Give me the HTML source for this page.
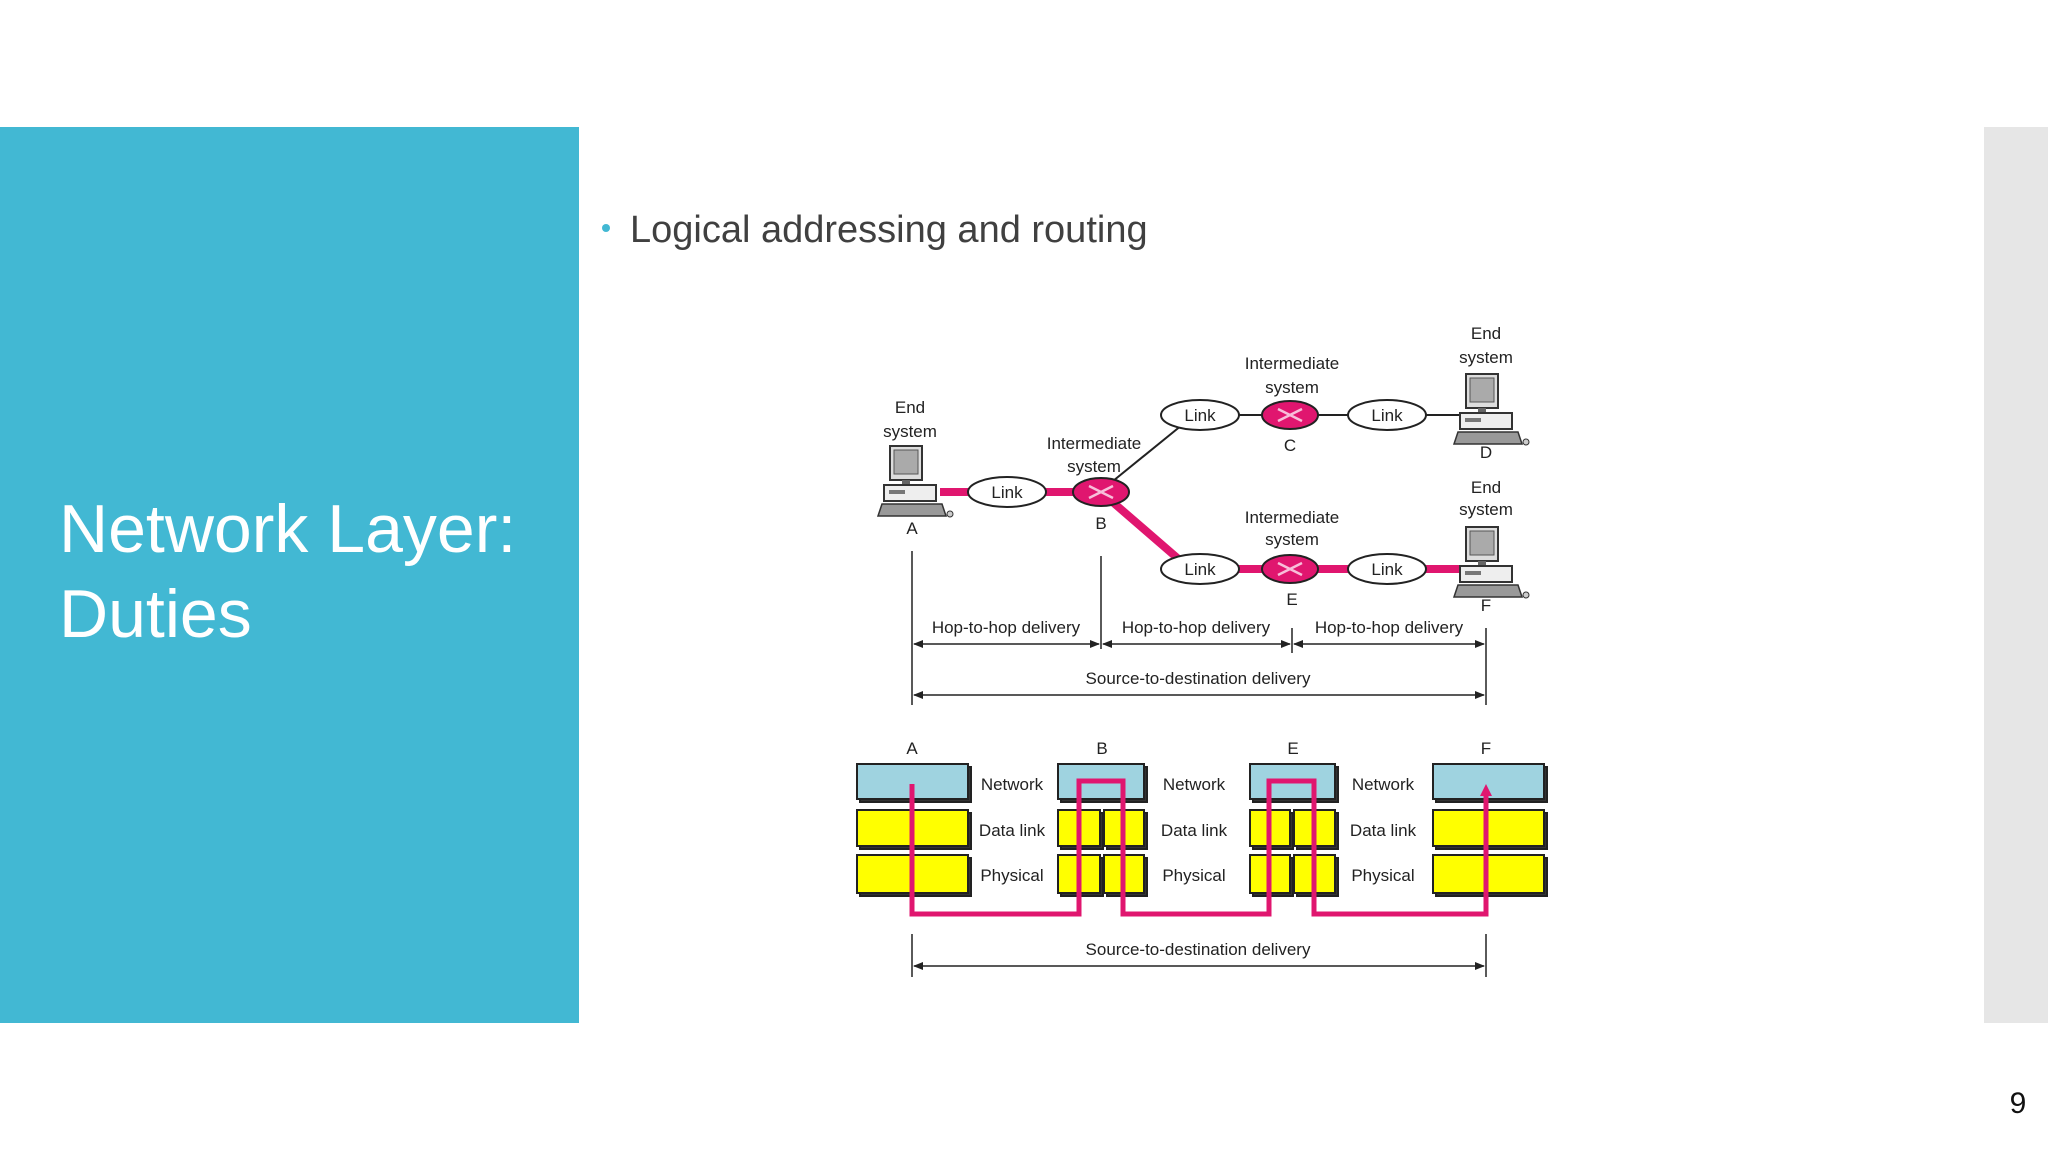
<!DOCTYPE html>
<html><head><meta charset="utf-8"><style>
html,body{margin:0;padding:0;background:#fff;}
body{width:2048px;height:1152px;position:relative;overflow:hidden;font-family:"Liberation Sans",sans-serif;}
</style></head><body>
<svg width="2048" height="1152" viewBox="0 0 2048 1152" xmlns="http://www.w3.org/2000/svg" style="position:absolute;left:0;top:0">
<defs>
<marker id="ar" markerWidth="10" markerHeight="8" refX="9" refY="4" orient="auto-start-reverse" markerUnits="userSpaceOnUse"><path d="M0,0 L10,4 L0,8 z" fill="#222"/></marker>
<marker id="pa" markerWidth="12" markerHeight="12" refX="6" refY="6" orient="auto" markerUnits="userSpaceOnUse"><path d="M0,0 L12,6 L0,12 z" fill="#e0166f"/></marker>
<g id="pc">
 <rect x="14" y="0" width="32" height="34" fill="#ddd" stroke="#333" stroke-width="2"/>
 <rect x="18" y="4" width="24" height="24" fill="#aaa" stroke="#555"/>
 <rect x="26" y="34" width="8" height="5" fill="#666"/>
 <rect x="8" y="39" width="52" height="16" fill="#eee" stroke="#333" stroke-width="2"/>
 <rect x="13" y="44" width="16" height="4" fill="#777"/>
 <polygon points="2,70 6,58 66,58 70,70" fill="#999" stroke="#333" stroke-width="1.5"/>
 <circle cx="74" cy="68" r="3" fill="#ccc" stroke="#333"/>
</g>
<g id="rt">
 <ellipse cx="0" cy="0" rx="28" ry="14" fill="#e0166f" stroke="#222" stroke-width="2"/>
 <path d="M-12,-6 L12,6 M-12,6 L12,-6" stroke="#f7bfd9" stroke-width="2.5"/>
</g>
</defs>
<rect x="0" y="127" width="579" height="896" fill="#42b8d3"/>
<rect x="1984" y="127" width="64" height="896" fill="#e6e6e6"/>
<text x="59" y="552" font-size="68" fill="#fff">Network Layer:</text>
<text x="59" y="637" font-size="68" fill="#fff">Duties</text>
<circle cx="606" cy="228" r="4" fill="#42b8d3"/>
<text x="630" y="242" font-size="38" fill="#404040">Logical addressing and routing</text>
<text x="2018" y="1113" font-size="30" fill="#111" text-anchor="middle">9</text>

<g font-size="17" fill="#222" text-anchor="middle">
<!-- top diagram lines -->
<line x1="940" y1="492" x2="1101" y2="492" stroke="#e0166f" stroke-width="8"/>
<line x1="1101" y1="492" x2="1190" y2="569" stroke="#e0166f" stroke-width="8"/>
<line x1="1190" y1="569" x2="1470" y2="569" stroke="#e0166f" stroke-width="8"/>
<line x1="1113" y1="481" x2="1182" y2="425" stroke="#222" stroke-width="2"/>
<line x1="1200" y1="415" x2="1465" y2="415" stroke="#222" stroke-width="2"/>
<g fill="#fff" stroke="#222" stroke-width="2">
<ellipse cx="1007" cy="492" rx="39" ry="15"/>
<ellipse cx="1200" cy="415" rx="39" ry="15"/>
<ellipse cx="1387" cy="415" rx="39" ry="15"/>
<ellipse cx="1200" cy="569" rx="39" ry="15"/>
<ellipse cx="1387" cy="569" rx="39" ry="15"/>
</g>
<text x="1007" y="498">Link</text><text x="1200" y="421">Link</text><text x="1387" y="421">Link</text>
<text x="1200" y="575">Link</text><text x="1387" y="575">Link</text>
<use href="#rt" x="1101" y="492"/><use href="#rt" x="1290" y="415"/><use href="#rt" x="1290" y="569"/>
<use href="#pc" x="876" y="446"/><use href="#pc" x="1452" y="374"/><use href="#pc" x="1452" y="527"/>
<text x="910" y="413">End</text><text x="910" y="437">system</text>
<text x="912" y="534">A</text>
<text x="1094" y="449">Intermediate</text><text x="1094" y="472">system</text>
<text x="1101" y="529">B</text>
<text x="1292" y="369">Intermediate</text><text x="1292" y="393">system</text>
<text x="1290" y="451">C</text>
<text x="1486" y="339">End</text><text x="1486" y="363">system</text>
<text x="1486" y="458">D</text>
<text x="1292" y="523">Intermediate</text><text x="1292" y="545">system</text>
<text x="1292" y="605">E</text>
<text x="1486" y="493">End</text><text x="1486" y="515">system</text>
<text x="1486" y="611">F</text>

<!-- delivery dimension lines -->
<g stroke="#222" stroke-width="1.5">
<line x1="912" y1="551" x2="912" y2="705"/>
<line x1="1101" y1="556" x2="1101" y2="649"/>
<line x1="1292" y1="628" x2="1292" y2="653"/>
<line x1="1486" y1="628" x2="1486" y2="705"/>
<line x1="914" y1="644" x2="1099" y2="644" marker-start="url(#ar)" marker-end="url(#ar)"/>
<line x1="1103" y1="644" x2="1290" y2="644" marker-start="url(#ar)" marker-end="url(#ar)"/>
<line x1="1294" y1="644" x2="1484" y2="644" marker-start="url(#ar)" marker-end="url(#ar)"/>
<line x1="914" y1="695" x2="1484" y2="695" marker-start="url(#ar)" marker-end="url(#ar)"/>
</g>
<text x="1006" y="633">Hop-to-hop delivery</text>
<text x="1196" y="633">Hop-to-hop delivery</text>
<text x="1389" y="633">Hop-to-hop delivery</text>
<text x="1198" y="684">Source-to-destination delivery</text>

<!-- layer stacks -->
<text x="912" y="754">A</text><text x="1102" y="754">B</text><text x="1293" y="754">E</text><text x="1486" y="754">F</text>
<g stroke="#222" stroke-width="2">
<rect x="860" y="767" width="111" height="35" fill="#333"/>
<rect x="857" y="764" width="111" height="35" fill="#9fd3e0"/>
<rect x="860" y="813" width="111" height="36" fill="#333"/>
<rect x="857" y="810" width="111" height="36" fill="#ffff00"/>
<rect x="860" y="858" width="111" height="38" fill="#333"/>
<rect x="857" y="855" width="111" height="38" fill="#ffff00"/>

<rect x="1061" y="767" width="86" height="35" fill="#333"/>
<rect x="1058" y="764" width="86" height="35" fill="#9fd3e0"/>
<rect x="1061" y="813" width="42" height="36" fill="#333"/><rect x="1058" y="810" width="42" height="36" fill="#ffff00"/>
<rect x="1107" y="813" width="40" height="36" fill="#333"/><rect x="1104" y="810" width="40" height="36" fill="#ffff00"/>
<rect x="1061" y="858" width="42" height="38" fill="#333"/><rect x="1058" y="855" width="42" height="38" fill="#ffff00"/>
<rect x="1107" y="858" width="40" height="38" fill="#333"/><rect x="1104" y="855" width="40" height="38" fill="#ffff00"/>

<rect x="1253" y="767" width="85" height="35" fill="#333"/>
<rect x="1250" y="764" width="85" height="35" fill="#9fd3e0"/>
<rect x="1253" y="813" width="40" height="36" fill="#333"/><rect x="1250" y="810" width="40" height="36" fill="#ffff00"/>
<rect x="1297" y="813" width="41" height="36" fill="#333"/><rect x="1294" y="810" width="41" height="36" fill="#ffff00"/>
<rect x="1253" y="858" width="40" height="38" fill="#333"/><rect x="1250" y="855" width="40" height="38" fill="#ffff00"/>
<rect x="1297" y="858" width="41" height="38" fill="#333"/><rect x="1294" y="855" width="41" height="38" fill="#ffff00"/>

<rect x="1436" y="767" width="111" height="35" fill="#333"/>
<rect x="1433" y="764" width="111" height="35" fill="#9fd3e0"/>
<rect x="1436" y="813" width="111" height="36" fill="#333"/>
<rect x="1433" y="810" width="111" height="36" fill="#ffff00"/>
<rect x="1436" y="858" width="111" height="38" fill="#333"/>
<rect x="1433" y="855" width="111" height="38" fill="#ffff00"/>
</g>
<text x="1012" y="790">Network</text><text x="1194" y="790">Network</text><text x="1383" y="790">Network</text>
<text x="1012" y="836">Data link</text><text x="1194" y="836">Data link</text><text x="1383" y="836">Data link</text>
<text x="1012" y="881">Physical</text><text x="1194" y="881">Physical</text><text x="1383" y="881">Physical</text>
<polyline points="912,784 912,914 1079,914 1079,781 1123,781 1123,914 1269,914 1269,781 1314,781 1314,914 1486,914 1486,790" fill="none" stroke="#e0166f" stroke-width="5" marker-end="url(#pa)"/>

<g stroke="#222" stroke-width="1.5">
<line x1="912" y1="934" x2="912" y2="977"/>
<line x1="1486" y1="934" x2="1486" y2="977"/>
<line x1="914" y1="966" x2="1484" y2="966" marker-start="url(#ar)" marker-end="url(#ar)"/>
</g>
<text x="1198" y="955">Source-to-destination delivery</text>
</g>
</svg>
</body></html>
